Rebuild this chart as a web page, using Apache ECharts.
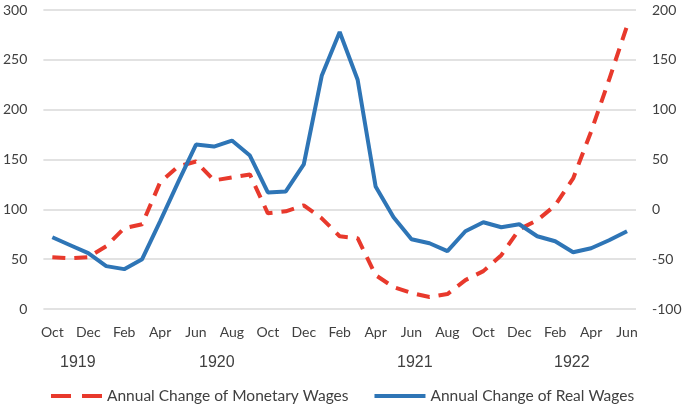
<!DOCTYPE html>
<html><head><meta charset="utf-8">
<script src="https://cdn.jsdelivr.net/npm/echarts@6/dist/echarts.min.js"></script>
<style>html,body{margin:0;padding:0;background:#fff}#c{width:685px;height:407px}</style>
</head><body><div id="c"></div>
<script>
const months = ['Oct','Nov','Dec','Jan','Feb','Mar','Apr','May','Jun','Jul','Aug','Sep',
  'Oct','Nov','Dec','Jan','Feb','Mar','Apr','May','Jun','Jul','Aug','Sep',
  'Oct','Nov','Dec','Jan','Feb','Mar','Apr','May','Jun'];
const monetaryWages = [52,51,52,63,81,85,127,143,148,129,132,135,
  96,98,104,91,73,71,34,22,16,12,15,29,38,54,80,89,104,131,178,230,284];
const realWages = [-28,-36,-44,-57,-60,-50,-12,27,65,63,69,54,
  17,18,45,134,178,130,23,-8,-30,-34,-42,-22,-13,-18,-15,-27,-32,-43,-39,-31,-22];
const years = ['1919','1920','1921','1922'];
const yearX = [79,218,416,573];
const leftTicks = [0,300,50];
const rightTicks = [-100,200,50];

const FONT = 'Lato';
const TXT = '#404040';
const chart = echarts.init(document.getElementById('c'));
chart.setOption({
  animation:false,
  grid:{left:42,right:49,top:10,bottom:98},
  legend:{
    left:46, top:383, itemWidth:51, itemHeight:4, itemGap:26,
    textStyle:{fontFamily:FONT,fontSize:15.5,color:TXT},
    data:[
      {name:'Annual Change of Monetary Wages', icon:'path://M0,0h20v4h-20zM31,0h20v4h-20z'},
      {name:'Annual Change of Real Wages', icon:'path://M0,0h51v4h-51z'}
    ]
  },
  xAxis:{
    type:'category', data:months, boundaryGap:true,
    axisLine:{show:false}, axisTick:{show:false},
    axisLabel:{interval:1, margin:16, fontFamily:FONT, fontSize:14, color:TXT}
  },
  yAxis:[
    {type:'value', min:leftTicks[0], max:leftTicks[1], interval:leftTicks[2],
     axisLine:{show:false}, axisTick:{show:false},
     axisLabel:{margin:16, fontFamily:FONT, fontSize:14, color:TXT},
     splitLine:{lineStyle:{color:'#d9d9d9', width:1.5}}},
    {type:'value', min:rightTicks[0], max:rightTicks[1], interval:rightTicks[2],
     axisLine:{show:false}, axisTick:{show:false},
     axisLabel:{margin:16, fontFamily:FONT, fontSize:14, color:TXT},
     splitLine:{show:false}}
  ],
  graphic: years.map((y,i)=>({type:'text', left:yearX[i]-19, top:355,
     style:{text:y, font:'16px "Liberation Sans"', fill:TXT}})),
  series:[
    {name:'Annual Change of Monetary Wages', type:'line', yAxisIndex:0, data:monetaryWages,
     symbol:'none', lineStyle:{color:'#e8392c', width:4, type:[13,9]}, itemStyle:{color:'#e8392c'}},
    {name:'Annual Change of Real Wages', type:'line', yAxisIndex:1, data:realWages,
     symbol:'none', lineStyle:{color:'#2e75b6', width:4}, itemStyle:{color:'#2e75b6'}}
  ]
});
</script></body></html>
